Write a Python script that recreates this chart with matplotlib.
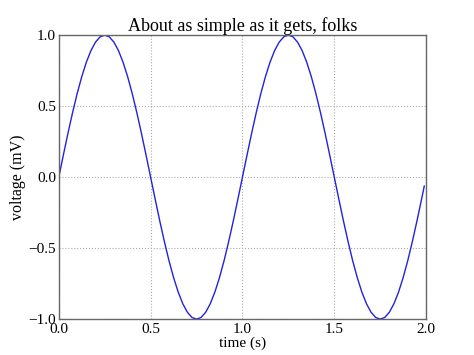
import matplotlib
matplotlib.use('Agg')
import matplotlib.pyplot as plt

# values
time_s = [0.0, 0.025, 0.05, 0.075, 0.1, 0.125, 0.15, 0.175, 0.2, 0.225,
          0.25, 0.275, 0.3, 0.325, 0.35, 0.375, 0.4, 0.425, 0.45, 0.475,
          0.5, 0.525, 0.55, 0.575, 0.6, 0.625, 0.65, 0.675, 0.7, 0.725,
          0.75, 0.775, 0.8, 0.825, 0.85, 0.875, 0.9, 0.925, 0.95, 0.975,
          1.0, 1.025, 1.05, 1.075, 1.1, 1.125, 1.15, 1.175, 1.2, 1.225,
          1.25, 1.275, 1.3, 1.325, 1.35, 1.375, 1.4, 1.425, 1.45, 1.475,
          1.5, 1.525, 1.55, 1.575, 1.6, 1.625, 1.65, 1.675, 1.7, 1.725,
          1.75, 1.775, 1.8, 1.825, 1.85, 1.875, 1.9, 1.925, 1.95, 1.975,
          1.99]
voltage_mv = [0.0, 0.156, 0.309, 0.454, 0.588, 0.707, 0.809, 0.891, 0.951, 0.988,
              1.0, 0.988, 0.951, 0.891, 0.809, 0.707, 0.588, 0.454, 0.309, 0.156,
              0.0, -0.156, -0.309, -0.454, -0.588, -0.707, -0.809, -0.891, -0.951, -0.988,
              -1.0, -0.988, -0.951, -0.891, -0.809, -0.707, -0.588, -0.454, -0.309, -0.156,
              0.0, 0.156, 0.309, 0.454, 0.588, 0.707, 0.809, 0.891, 0.951, 0.988,
              1.0, 0.988, 0.951, 0.891, 0.809, 0.707, 0.588, 0.454, 0.309, 0.156,
              0.0, -0.156, -0.309, -0.454, -0.588, -0.707, -0.809, -0.891, -0.951, -0.988,
              -1.0, -0.988, -0.951, -0.891, -0.809, -0.707, -0.588, -0.454, -0.309, -0.156,
              -0.063]

x_ticks = [0.0, 0.5, 1.0, 1.5, 2.0]
y_ticks = [-1.0, -0.5, 0.0, 0.5, 1.0]

plt.rcParams['font.family'] = ['Liberation Serif', 'DejaVu Serif']

fig, ax = plt.subplots(figsize=(4.74, 3.55), dpi=100)
fig.subplots_adjust(left=0.124, right=0.899, bottom=0.101, top=0.901)

ax.plot(time_s, voltage_mv, color='#2222dd', linewidth=1.0)

ax.set_xlim(0, 2)
ax.set_ylim(-1, 1)
ax.set_xticks(x_ticks)
ax.set_yticks(y_ticks)
ax.set_xticklabels(['%.1f' % v for v in x_ticks])
ax.set_yticklabels(['%.1f' % v if v >= 0 else '\u2212%.1f' % -v for v in y_ticks])
ax.tick_params(direction='in', length=0, labelsize=11, pad=2)
ax.tick_params(axis='x', pad=3)

for spine in ax.spines.values():
    spine.set_color('#666666')
    spine.set_linewidth(1.0)

ax.grid(True, linestyle=':', color='#aaaaaa', linewidth=0.8)

ax.set_xlabel('time (s)', fontsize=11, labelpad=0)
ax.set_ylabel('voltage (mV)', fontsize=11.5, labelpad=2)
ax.set_title('About as simple as it gets, folks', fontsize=13, pad=2)

fig.savefig('out.png', dpi=100)
